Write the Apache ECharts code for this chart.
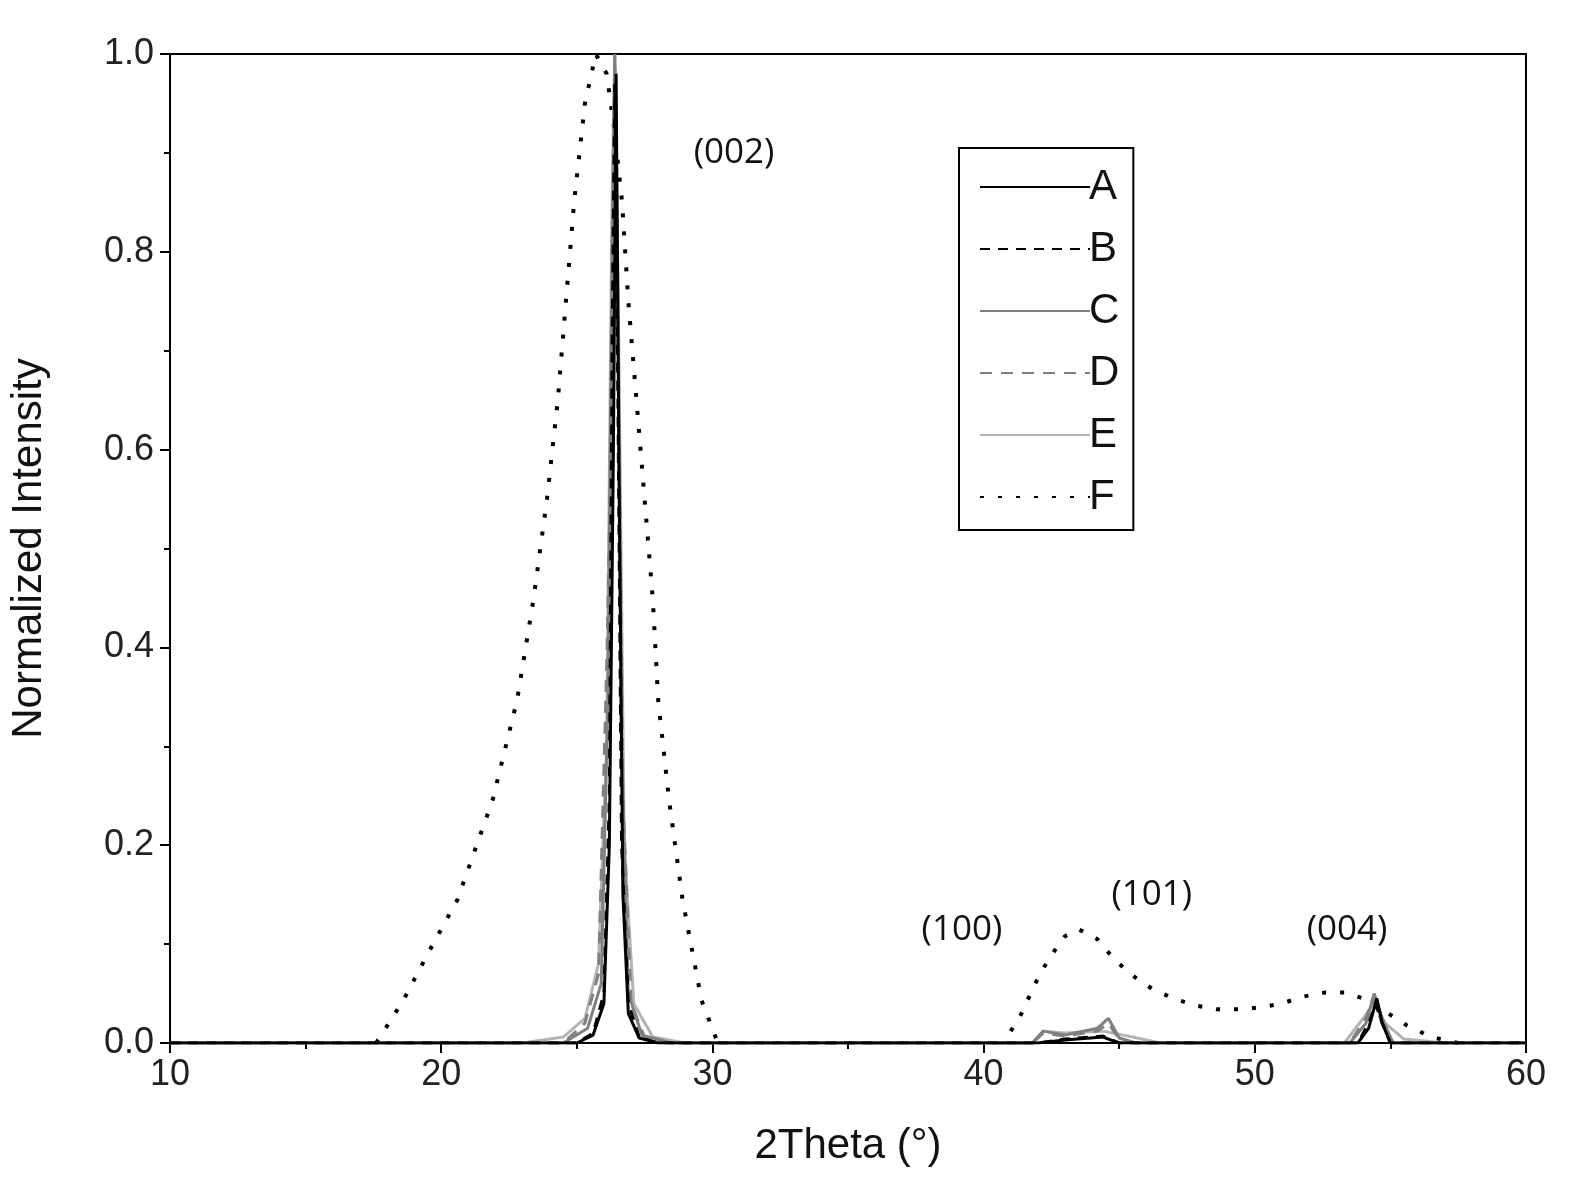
<!DOCTYPE html>
<html><head><meta charset="utf-8">
<script src="https://cdn.jsdelivr.net/npm/echarts@6/dist/echarts.min.js"></script>
<style>html,body{margin:0;padding:0;background:#fff;overflow:hidden}#c{width:1588px;height:1194px}</style>
</head><body><div id="c"></div>
<script>
const seriesNames = ['A','B','C','D','E','F'];
const dataA = [[10,0],[25,0],[25.6,0.008],[26.0,0.04],[26.2,0.2],[26.35,0.6],[26.45,0.98],[26.55,0.6],[26.7,0.15],[26.9,0.03],[27.3,0.005],[28,0],[42,0],[43,0.003],[44.4,0.006],[45,0],[53.8,0],[54.2,0.015],[54.5,0.045],[54.7,0.02],[55,0],[60,0]];
const dataB = [[10,0],[25,0],[25.6,0.01],[26.0,0.05],[26.2,0.25],[26.3,0.7],[26.4,0.97],[26.5,0.7],[26.65,0.2],[26.9,0.04],[27.3,0.006],[28,0],[42,0],[43,0.004],[44.4,0.007],[45,0],[53.8,0],[54.2,0.02],[54.45,0.04],[54.7,0.02],[55,0],[60,0]];
const dataC = [[10,0],[24.5,0],[25.4,0.015],[25.9,0.06],[26.15,0.35],[26.3,0.8],[26.4,1.0],[26.5,0.8],[26.65,0.3],[26.9,0.05],[27.4,0.008],[28.5,0],[41.8,0],[42.2,0.012],[43,0.008],[44.2,0.015],[44.6,0.025],[45,0.005],[45.6,0],[53.5,0],[54.1,0.02],[54.4,0.05],[54.7,0.025],[55.1,0],[60,0]];
const dataD = [[10,0],[24.5,0],[25.3,0.02],[25.8,0.07],[26.1,0.38],[26.25,0.58],[26.4,0.99],[26.5,0.75],[26.7,0.25],[27.0,0.04],[27.5,0.006],[28.5,0],[41.8,0],[42.2,0.01],[43,0.007],[44.2,0.012],[44.6,0.02],[45,0.004],[45.6,0],[53.5,0],[54.1,0.025],[54.35,0.045],[54.7,0.02],[55.1,0],[60,0]];
const dataE = [[10,0],[23,0],[24.5,0.006],[25.3,0.025],[25.8,0.08],[26.1,0.3],[26.3,0.85],[26.4,1.0],[26.55,0.7],[26.75,0.2],[27.1,0.04],[27.8,0.006],[29,0],[41.8,0],[42.2,0.012],[43,0.01],[44.4,0.012],[45.5,0.006],[46.5,0],[53.3,0],[54.0,0.025],[54.4,0.04],[54.8,0.02],[55.5,0.004],[57,0],[60,0]];
const dataF = [[17.6,0],[18.6,0.043],[19.5,0.09],[20.6,0.145],[21.9,0.246],[22.8,0.347],[23.4,0.448],[23.9,0.55],[24.3,0.65],[24.6,0.75],[24.9,0.85],[25.3,0.95],[25.7,1.0],[26.1,0.98],[26.4,0.92],[26.67,0.85],[26.9,0.75],[27.2,0.65],[27.5,0.55],[27.8,0.45],[28.0,0.347],[28.4,0.246],[28.9,0.145],[29.6,0.043],[30.2,0],[35,null],
  [41.0,0.012],[41.4,0.03],[41.9,0.06],[42.4,0.085],[43.0,0.108],[43.5,0.115],[44.2,0.105],[44.8,0.085],[45.5,0.068],[46.2,0.055],[47.0,0.045],[47.8,0.038],[48.6,0.034],[49.4,0.034],[50.2,0.036],[51.0,0.04],[51.8,0.047],[52.6,0.051],[53.3,0.051],[54.0,0.045],[54.8,0.032],[55.6,0.018],[56.5,0.006],[57.5,0]];
const tickLabelsX = ['10','20','30','40','50','60'];
const tickLabelsY = ['0.0','0.2','0.4','0.6','0.8','1.0'];
const peakLabels = [['(002)',30.8,0.9],['(100)',39.2,0.114],['(101)',46.2,0.15],['(004)',53.4,0.114]];

const styles = {
  A:{color:'#000',type:'solid',width:3},
  B:{color:'#000',type:[10,8],width:3},
  C:{color:'#808080',type:'solid',width:3},
  D:{color:'#808080',type:[12,9],width:3},
  E:{color:'#b4b4b4',type:'solid',width:3},
  F:{color:'#000',type:[4,14],width:4}
};
const datas = {A:dataA,B:dataB,C:dataC,D:dataD,E:dataE,F:dataF};
const series = seriesNames.slice().reverse().map(n => ({
  name:n, type:'line', data:datas[n], symbol:'none', showSymbol:false, connectNulls:false,
  lineStyle:styles[n], itemStyle:{color:styles[n].color}, z: n==='F'?1:2,
  markPoint: n==='F' ? {symbol:'circle',symbolSize:1,itemStyle:{color:'transparent'},
    label:{show:true,position:'inside',formatter:p=>p.name,color:'#111',fontSize:35,fontFamily:'Open Sans'},
    data: peakLabels.map(p=>({name:p[0],coord:[p[1],p[2]]}))} : undefined
}));
const chart = echarts.init(document.getElementById('c'));
chart.setOption({
  animation:false,
  grid:{left:167,right:62,top:54,bottom:151,show:true,borderColor:'#000',borderWidth:2,backgroundColor:'transparent'},
  legend:{data:seriesNames,orient:'vertical',left:959,top:148,itemWidth:110,itemHeight:40,itemGap:20,
    padding:[18,14,12,20],borderColor:'#000',borderWidth:2,
    itemStyle:{opacity:0},
    textStyle:{fontSize:42,color:'#111',fontFamily:'Liberation Sans',padding:[0,0,0,-6]}},
  xAxis:{type:'value',min:10,max:60,interval:10,
    name:'2Theta (°)',nameLocation:'middle',nameGap:82,nameTextStyle:{fontSize:42,color:'#111',fontFamily:'Liberation Sans'},
    axisLine:{lineStyle:{color:'#000',width:2}},axisTick:{length:10,lineStyle:{width:2,color:'#000'}},
    minorTick:{show:true,splitNumber:2,length:6,lineStyle:{width:2,color:'#000'}},
    splitLine:{show:false},
    axisLabel:{fontSize:36,color:'#222',margin:14,fontFamily:'Liberation Sans',formatter:v=>tickLabelsX[(v-10)/10]}},
  yAxis:{type:'value',min:0,max:1,interval:0.2,
    name:'Normalized Intensity',nameLocation:'middle',nameGap:120,nameTextStyle:{fontSize:42,color:'#111',fontFamily:'Liberation Sans'},
    axisLine:{show:true,lineStyle:{color:'#000',width:2}},axisTick:{show:true,length:10,lineStyle:{width:2,color:'#000'}},
    minorTick:{show:true,splitNumber:2,length:6,lineStyle:{width:2,color:'#000'}},
    splitLine:{show:false},
    axisLabel:{fontSize:36,color:'#222',margin:16,fontFamily:'Liberation Sans',formatter:v=>tickLabelsY[Math.round(v*5)]}},
  series:series
});
</script></body></html>
